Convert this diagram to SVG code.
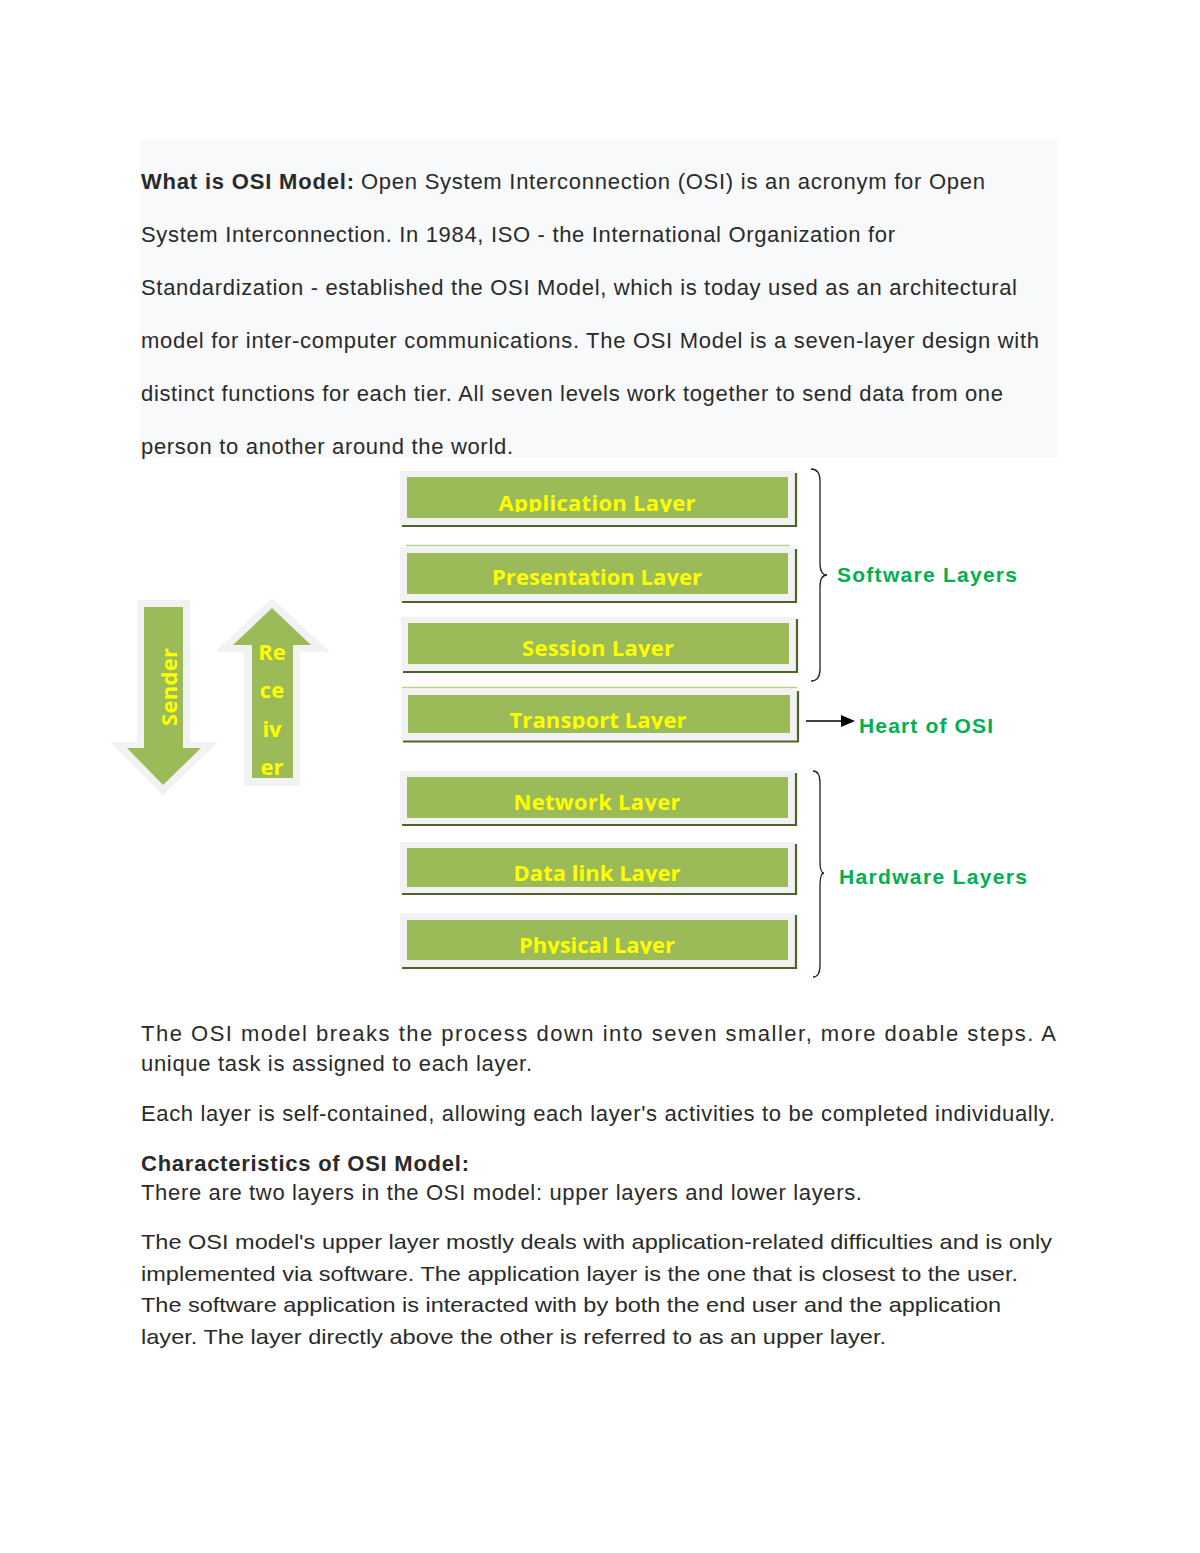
<svg xmlns="http://www.w3.org/2000/svg" width="1200" height="1553" viewBox="0 0 1200 1553">
<style>
.body{font-family:"Liberation Sans",Arial,sans-serif;font-size:22px;fill:#2a2a2a}
.b{font-weight:bold}
.low{font-family:"Liberation Sans",Arial,sans-serif;font-size:22px;fill:#2a2a2a}
.nar{font-family:"Liberation Sans",Arial,sans-serif;font-size:21px;fill:#2a2a2a}
.frame{fill:#f2f2f2}
.inner{fill:#9bbb59}
.shadow{fill:none;stroke:#4f6228;stroke-width:2.2}
.lt{font-family:"Open Sans","DejaVu Sans",sans-serif;font-weight:bold;font-size:22px;fill:#ffff00;text-anchor:middle}
.gl{font-family:"Liberation Sans",Arial,sans-serif;font-weight:bold;font-size:21px;fill:#00b050}
.brace{fill:none;stroke:#222;stroke-width:1.3}
.topline{stroke:#b7d28a;stroke-width:1.5}
</style>
<defs>
<marker id="ah" markerWidth="15" markerHeight="12" refX="1" refY="6" orient="auto" markerUnits="userSpaceOnUse">
<polygon points="0,0 14,6 0,12" fill="#000"/>
</marker>
<clipPath id="c1"><rect x="407" y="477" width="381" height="35"/></clipPath>
<clipPath id="c2"><rect x="407" y="553" width="381" height="33"/></clipPath>
<clipPath id="c3"><rect x="407" y="623" width="381" height="34"/></clipPath>
<clipPath id="c4"><rect x="407" y="695" width="381" height="34"/></clipPath>
<clipPath id="c5"><rect x="407" y="777" width="381" height="34"/></clipPath>
<clipPath id="c6"><rect x="407" y="848" width="381" height="34"/></clipPath>
<clipPath id="c7"><rect x="407" y="920" width="381" height="34"/></clipPath>
<clipPath id="cr"><rect x="252" y="608" width="41" height="170"/></clipPath>
</defs>
<rect width="1200" height="1553" fill="#fff"/>

<g id="intro">
<rect x="140" y="140" width="918" height="318" fill="#f8f9fa"/>
<text class="body b" x="141" y="189" textLength="213" lengthAdjust="spacing">What is OSI Model:</text>
<text class="body" x="361" y="189" textLength="624" lengthAdjust="spacing">Open System Interconnection (OSI) is an acronym for Open</text>
<text class="body" x="141" y="242" textLength="754" lengthAdjust="spacing">System Interconnection. In 1984, ISO - the International Organization for</text>
<text class="body" x="141" y="295" textLength="876" lengthAdjust="spacing">Standardization - established the OSI Model, which is today used as an architectural</text>
<text class="body" x="141" y="348" textLength="898" lengthAdjust="spacing">model for inter-computer communications. The OSI Model is a seven-layer design with</text>
<text class="body" x="141" y="401" textLength="862" lengthAdjust="spacing">distinct functions for each tier. All seven levels work together to send data from one</text>
<text class="body" x="141" y="454" textLength="372" lengthAdjust="spacing">person to another around the world.</text>
</g>

<g id="sender">
<path class="frame" d="M137,600 H190 V742 H218 L163,795 L110,742 H137 Z"/>
<path class="inner" d="M144,607 H183 V748 H201 L163,785 L127,748 H144 Z"/>
<text class="lt" font-size="24" transform="translate(177,687) rotate(-90)" textLength="78" lengthAdjust="spacing">Sender</text>
</g>

<g id="receiver">
<path class="frame" d="M244,786 V652 H215 L272,598 L330,652 H300 V786 Z"/>
<path class="inner" d="M252,778 V645 H233 L272,608 L311,645 H293 V778 Z"/>
<g clip-path="url(#cr)">
<text class="lt" x="272" y="660">Re</text>
<text class="lt" x="272" y="698">ce</text>
<text class="lt" x="272" y="737">iv</text>
<text class="lt" x="272" y="775">er</text>
</g>
</g>

<g id="application-layer">
<rect class="frame" x="400" y="471" width="395" height="54"/>
<path class="shadow" d="M796,473 V527 M402,526 H797"/>
<rect class="inner" x="407" y="477" width="381" height="41"/>
<text class="lt" x="597" y="511" clip-path="url(#c1)" textLength="197" lengthAdjust="spacing">Application Layer</text>
</g>

<g id="presentation-layer">
<line class="topline" x1="406" y1="545.5" x2="790" y2="545.5"/>
<rect class="frame" x="400" y="547" width="395" height="54"/>
<path class="shadow" d="M796,549 V603 M402,602 H797"/>
<rect class="inner" x="407" y="553" width="381" height="41"/>
<text class="lt" x="597" y="585" clip-path="url(#c2)" textLength="210" lengthAdjust="spacing">Presentation Layer</text>
</g>

<g id="session-layer">
<rect class="frame" x="401" y="617" width="395" height="54"/>
<path class="shadow" d="M797,619 V673 M403,672 H798"/>
<rect class="inner" x="408" y="623" width="381" height="41"/>
<text class="lt" x="598" y="656" clip-path="url(#c3)" textLength="152" lengthAdjust="spacing">Session Layer</text>
</g>

<g id="transport-layer">
<line class="topline" x1="402" y1="687.5" x2="797" y2="687.5"/>
<rect class="frame" x="401" y="689" width="396" height="51"/>
<path class="shadow" d="M798,691 V742 M403,741.5 H799"/>
<rect class="inner" x="408" y="695" width="382" height="38"/>
<text class="lt" x="598" y="728" clip-path="url(#c4)" textLength="177" lengthAdjust="spacing">Transport Layer</text>
</g>

<g id="network-layer">
<rect class="frame" x="400" y="771" width="395" height="53"/>
<path class="shadow" d="M796,773 V826 M402,825 H797"/>
<rect class="inner" x="407" y="777" width="381" height="41"/>
<text class="lt" x="597" y="810" clip-path="url(#c5)" textLength="167" lengthAdjust="spacing">Network Layer</text>
</g>

<g id="data-link-layer">
<rect class="frame" x="400" y="842" width="395" height="51"/>
<path class="shadow" d="M796,844 V895 M402,894 H797"/>
<rect class="inner" x="407" y="848" width="381" height="39"/>
<text class="lt" x="597" y="881" clip-path="url(#c6)" textLength="167" lengthAdjust="spacing">Data link Layer</text>
</g>

<g id="physical-layer">
<rect class="frame" x="400" y="913" width="395" height="54"/>
<path class="shadow" d="M796,915 V969 M402,968 H797"/>
<rect class="inner" x="407" y="920" width="381" height="40"/>
<text class="lt" x="597" y="953" clip-path="url(#c7)" textLength="156" lengthAdjust="spacing">Physical Layer</text>
</g>

<g id="software-layers">
<text class="gl" x="837" y="582" textLength="180" lengthAdjust="spacing">Software Layers</text>
</g>
<g id="heart-of-osi">
<text class="gl" x="859" y="733" textLength="134" lengthAdjust="spacing">Heart of OSI</text>
</g>
<g id="hardware-layers">
<text class="gl" x="839" y="884" textLength="188" lengthAdjust="spacing">Hardware Layers</text>
</g>

<g id="connectors">
<path class="brace" d="M811,469 Q820,469 820,481 V563 Q820,575 827,575 Q820,575 820,587 V669 Q820,681 811,681"/>
<path class="brace" d="M813,771 Q820,771 820,783 V861 Q820,873 824,873 Q820,873 820,885 V965 Q820,977 813,977"/>
<line x1="806" y1="721" x2="842" y2="721" stroke="#000" stroke-width="1.5" marker-end="url(#ah)"/>
</g>

<g id="body-text">
<text class="low" x="141" y="1041" textLength="915" lengthAdjust="spacing">The OSI model breaks the process down into seven smaller, more doable steps. A</text>
<text class="low" x="141" y="1071" textLength="391" lengthAdjust="spacing">unique task is assigned to each layer.</text>
<text class="low" x="141" y="1121" textLength="914" lengthAdjust="spacing">Each layer is self-contained, allowing each layer's activities to be completed individually.</text>
<text class="low b" x="141" y="1171" textLength="328" lengthAdjust="spacing">Characteristics of OSI Model:</text>
<text class="low" x="141" y="1200" textLength="721" lengthAdjust="spacing">There are two layers in the OSI model: upper layers and lower layers.</text>
<text class="nar" x="141" y="1249" textLength="911" lengthAdjust="spacingAndGlyphs">The OSI model's upper layer mostly deals with application-related difficulties and is only</text>
<text class="nar" x="141" y="1281" textLength="877" lengthAdjust="spacingAndGlyphs">implemented via software. The application layer is the one that is closest to the user.</text>
<text class="nar" x="141" y="1312" textLength="860" lengthAdjust="spacingAndGlyphs">The software application is interacted with by both the end user and the application</text>
<text class="nar" x="141" y="1344" textLength="745" lengthAdjust="spacingAndGlyphs">layer. The layer directly above the other is referred to as an upper layer.</text>
</g>
</svg>
